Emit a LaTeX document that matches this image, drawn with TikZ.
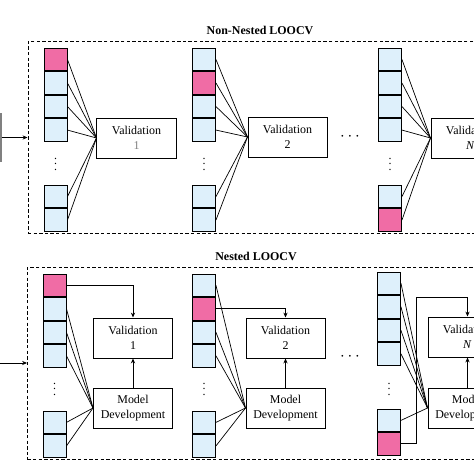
\documentclass[tikz,border=0pt]{standalone}
\usepackage{fontspec}
\setmainfont{Liberation Serif}
\usetikzlibrary{positioning}
\usetikzlibrary{arrows.meta}
\definecolor{cellpink}{RGB}{240,108,165}
\definecolor{cellblue}{RGB}{222,240,251}

\begin{document}
\begin{tikzpicture}[
        x=0.025cm, y=-0.025cm,
        every node/.style = {font=\fontsize{8.5}{10.5}\selectfont},
        cell/.style = {draw, line width=0.65pt, fill=cellblue, minimum width=0.575cm, minimum height=0.565cm, inner sep=0pt},
        held/.style = {cell, fill=cellpink},
        box/.style = {draw, line width=0.7pt, minimum width=1.975cm, minimum height=1cm, align=center, inner sep=1pt},
        frame/.style = {draw, dashed, dash pattern=on 2.4pt off 1.6pt, line width=0.6pt, minimum width=12.3cm, minimum height=4.8cm},
        title/.style = {font=\fontsize{8.5}{10}\selectfont\bfseries},
        gap/.style = {inner sep=0pt},
        feed/.style = {line width=0.5pt},
        flow/.style = {line width=0.6pt, -{Stealth[length=3.5pt, width=3pt]}}
        ]
    \clip (0,0) rectangle (474,474);
    \fill[white] (0,0) rectangle (474,474);

    % non-nested
    \node[title] (t1) at (260,30) {Non-Nested LOOCV};
    \node[frame] (f1) at (274,137.5) {};
    \node[draw=gray, line width=1pt, minimum width=1cm, minimum height=1.2cm] (src) at (-19,137.5) {};
    \draw[flow] (src.east) -- (f1.west);

    \node[held] (a1) at (55.5,59.5) {};
    \node[cell, below=0pt of a1] (a2) {};
    \node[cell, below=0pt of a2] (a3) {};
    \node[cell, below=0pt of a3] (a4) {};
    \node[cell, below=1.075cm of a4] (a5) {};
    \node[cell, below=0pt of a5] (a6) {};
    \node[gap] (da) at (55.5,160) {$\vdots$};
    \node[box] (v1) at (136.5,138) {Validation\\{\color{gray}1}};
    \foreach \c in {a1,a2,a3,a4,a5,a6} \draw[feed] (\c.east) -- (v1.west);

    \node[cell] (b1) at (204,59.5) {};
    \node[held, below=0pt of b1] (b2) {};
    \node[cell, below=0pt of b2] (b3) {};
    \node[cell, below=0pt of b3] (b4) {};
    \node[cell, below=1.075cm of b4] (b5) {};
    \node[cell, below=0pt of b5] (b6) {};
    \node[gap] (db) at (204,160) {$\vdots$};
    \node[box] (v2) at (287.5,137) {Validation\\2};
    \foreach \c in {b1,b2,b3,b4,b5,b6} \draw[feed] (\c.east) -- (v2.west);

    \node[gap] (h1) at (350,137) {\large$\cdots$};

    \node[cell] (c1) at (390,59.5) {};
    \node[cell, below=0pt of c1] (c2) {};
    \node[cell, below=0pt of c2] (c3) {};
    \node[cell, below=0pt of c3] (c4) {};
    \node[cell, below=1.075cm of c4] (c5) {};
    \node[held, below=0pt of c5] (c6) {};
    \node[gap] (dc) at (390,160) {$\vdots$};
    \node[box] (v3) at (470.5,138) {Validation\\\textit{N}};
    \foreach \c in {c1,c2,c3,c4,c5,c6} \draw[feed] (\c.east) -- (v3.west);

    % nested
    \node[title] (t2) at (256,256) {Nested LOOCV};
    \node[frame] (f2) at (273.5,363) {};
    \coordinate (in2) at (0,363);
    \draw[flow] (in2) -- (f2.west);

    \node[held] (p1) at (54.5,285.3) {};
    \node[cell, below=0pt of p1] (p2) {};
    \node[cell, below=0pt of p2] (p3) {};
    \node[cell, below=0pt of p3] (p4) {};
    \node[cell, below=1.075cm of p4] (p5) {};
    \node[cell, below=0pt of p5] (p6) {};
    \node[gap] (dp) at (54.5,385) {$\vdots$};
    \node[box] (v4) at (133,338) {Validation\\1};
    \node[box] (m1) at (133,408) {Model\\Development};
    \draw[flow] (p1.east) -| (v4.north);
    \draw[flow] (m1) -- (v4);
    \foreach \c in {p2,p3,p4,p5,p6} \draw[feed] (\c.east) -- (m1.west);

    \node[cell] (q1) at (204,285.3) {};
    \node[held, below=0pt of q1] (q2) {};
    \node[cell, below=0pt of q2] (q3) {};
    \node[cell, below=0pt of q3] (q4) {};
    \node[cell, below=1.075cm of q4] (q5) {};
    \node[cell, below=0pt of q5] (q6) {};
    \node[gap] (dq) at (204,385) {$\vdots$};
    \node[box] (v5) at (285.5,338) {Validation\\2};
    \node[box] (m2) at (285.5,408) {Model\\Development};
    \draw[flow] (q2.east) -| (v5.north);
    \draw[flow] (m2) -- (v5);
    \foreach \c in {q1,q3,q4,q5,q6} \draw[feed] (\c.east) -- (m2.west);

    \node[gap] (h2) at (350,357) {\large$\cdots$};

    \node[cell] (r1) at (389,283.3) {};
    \node[cell, below=0pt of r1] (r2) {};
    \node[cell, below=0pt of r2] (r3) {};
    \node[cell, below=0pt of r3] (r4) {};
    \node[cell, below=1.075cm of r4] (r5) {};
    \node[held, below=0pt of r5] (r6) {};
    \node[gap] (dr) at (389,385) {$\vdots$};
    \node[box] (v6) at (467.5,337) {Validation\\\textit{N}};
    \node[box] (m3) at (467.5,408) {Model\\Development};
    \coordinate (k1) at (416,297);
    \draw[flow] (r6.east) -| (k1) -| (v6.north);
    \draw[flow] (m3) -- (v6);
    \foreach \c in {r1,r2,r3,r4,r5} \draw[feed] (\c.east) -- (m3.west);
\end{tikzpicture}
\end{document}
